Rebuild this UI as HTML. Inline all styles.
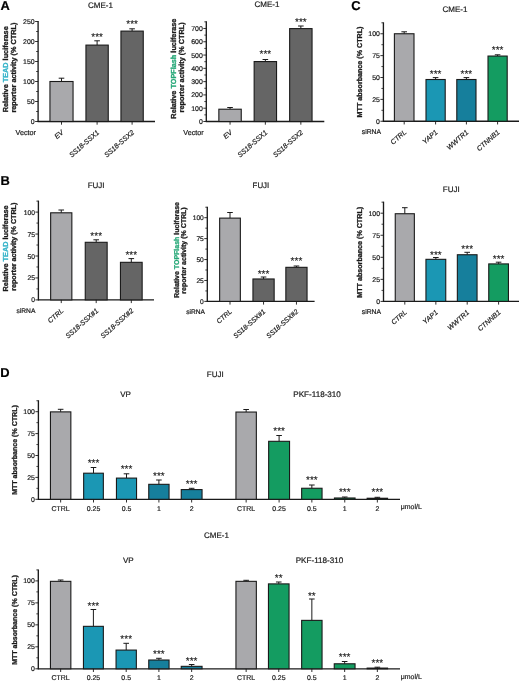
<!DOCTYPE html>
<html lang="en">
<head>
<meta charset="utf-8">
<title>Figure</title>
<style>
html,body{margin:0;padding:0;background:#fff;}
body{width:520px;height:682px;overflow:hidden;}
svg{display:block;font-family:'Liberation Sans', Arial, sans-serif;}
</style>
</head>
<body>
<svg width="520" height="682" viewBox="0 0 520 682" font-family="Liberation Sans, Arial, sans-serif" text-rendering="geometricPrecision">
<rect x="0" y="0" width="520" height="682" fill="#ffffff"/>
<text x="0.60" y="10.00" font-size="12.9" text-anchor="start" font-weight="bold" font-style="normal" fill="#000" stroke="#000" stroke-width="0.2" >A</text>
<text x="0.50" y="185.20" font-size="12.9" text-anchor="start" font-weight="bold" font-style="normal" fill="#000" stroke="#000" stroke-width="0.2" >B</text>
<text x="351.30" y="10.20" font-size="12.9" text-anchor="start" font-weight="bold" font-style="normal" fill="#000" stroke="#000" stroke-width="0.2" >C</text>
<text x="0.30" y="376.50" font-size="12.9" text-anchor="start" font-weight="bold" font-style="normal" fill="#000" stroke="#000" stroke-width="0.2" >D</text>
<text x="100.50" y="8.10" font-size="8" text-anchor="middle" font-weight="normal" font-style="normal" fill="#1a1a1a" stroke="#1a1a1a" stroke-width="0.2" >CME-1</text>
<text x="267.00" y="7.40" font-size="8" text-anchor="middle" font-weight="normal" font-style="normal" fill="#1a1a1a" stroke="#1a1a1a" stroke-width="0.2" >CME-1</text>
<text x="455.00" y="11.80" font-size="8" text-anchor="middle" font-weight="normal" font-style="normal" fill="#1a1a1a" stroke="#1a1a1a" stroke-width="0.2" >CME-1</text>
<text x="96.10" y="188.10" font-size="8" text-anchor="middle" font-weight="normal" font-style="normal" fill="#1a1a1a" stroke="#1a1a1a" stroke-width="0.2" >FUJI</text>
<text x="260.90" y="187.60" font-size="7.9" text-anchor="middle" font-weight="normal" font-style="normal" fill="#1a1a1a" stroke="#1a1a1a" stroke-width="0.2" >FUJI</text>
<text x="451.20" y="191.60" font-size="8" text-anchor="middle" font-weight="normal" font-style="normal" fill="#1a1a1a" stroke="#1a1a1a" stroke-width="0.2" >FUJI</text>
<text x="215.20" y="377.40" font-size="8" text-anchor="middle" font-weight="normal" font-style="normal" fill="#1a1a1a" stroke="#1a1a1a" stroke-width="0.2" >FUJI</text>
<text x="125.50" y="397.20" font-size="8" text-anchor="middle" font-weight="normal" font-style="normal" fill="#1a1a1a" stroke="#1a1a1a" stroke-width="0.2" >VP</text>
<text x="317.10" y="397.30" font-size="8.1" text-anchor="middle" font-weight="normal" font-style="normal" fill="#1a1a1a" stroke="#1a1a1a" stroke-width="0.2" >PKF-118-310</text>
<text x="216.50" y="538.00" font-size="8" text-anchor="middle" font-weight="normal" font-style="normal" fill="#1a1a1a" stroke="#1a1a1a" stroke-width="0.2" >CME-1</text>
<text x="128.30" y="563.20" font-size="8" text-anchor="middle" font-weight="normal" font-style="normal" fill="#1a1a1a" stroke="#1a1a1a" stroke-width="0.2" >VP</text>
<text x="319.50" y="563.20" font-size="8.1" text-anchor="middle" font-weight="normal" font-style="normal" fill="#1a1a1a" stroke="#1a1a1a" stroke-width="0.2" >PKF-118-310</text>
<line x1="38.1" y1="21.0" x2="38.1" y2="122.0" stroke="#1a1a1a" stroke-width="1.35"/>
<line x1="37.6" y1="121.5" x2="155" y2="121.5" stroke="#1a1a1a" stroke-width="1.35"/>
<line x1="35.1" y1="121.50" x2="38.1" y2="121.50" stroke="#1a1a1a" stroke-width="0.9"/>
<text x="34.65" y="124.00" font-size="6.95" text-anchor="end" font-weight="normal" font-style="normal" fill="#1a1a1a" stroke="#1a1a1a" stroke-width="0.2" >0</text>
<line x1="35.1" y1="101.50" x2="38.1" y2="101.50" stroke="#1a1a1a" stroke-width="0.9"/>
<text x="34.65" y="104.00" font-size="6.95" text-anchor="end" font-weight="normal" font-style="normal" fill="#1a1a1a" stroke="#1a1a1a" stroke-width="0.2" >50</text>
<line x1="35.1" y1="81.50" x2="38.1" y2="81.50" stroke="#1a1a1a" stroke-width="0.9"/>
<text x="34.65" y="84.00" font-size="6.95" text-anchor="end" font-weight="normal" font-style="normal" fill="#1a1a1a" stroke="#1a1a1a" stroke-width="0.2" >100</text>
<line x1="35.1" y1="61.50" x2="38.1" y2="61.50" stroke="#1a1a1a" stroke-width="0.9"/>
<text x="34.65" y="64.00" font-size="6.95" text-anchor="end" font-weight="normal" font-style="normal" fill="#1a1a1a" stroke="#1a1a1a" stroke-width="0.2" >150</text>
<line x1="35.1" y1="41.50" x2="38.1" y2="41.50" stroke="#1a1a1a" stroke-width="0.9"/>
<text x="34.65" y="44.00" font-size="6.95" text-anchor="end" font-weight="normal" font-style="normal" fill="#1a1a1a" stroke="#1a1a1a" stroke-width="0.2" >200</text>
<line x1="35.1" y1="21.50" x2="38.1" y2="21.50" stroke="#1a1a1a" stroke-width="0.9"/>
<text x="34.65" y="24.00" font-size="6.95" text-anchor="end" font-weight="normal" font-style="normal" fill="#1a1a1a" stroke="#1a1a1a" stroke-width="0.2" >250</text>
<line x1="36.1" y1="111.50" x2="38.1" y2="111.50" stroke="#1a1a1a" stroke-width="0.8"/>
<line x1="36.1" y1="91.50" x2="38.1" y2="91.50" stroke="#1a1a1a" stroke-width="0.8"/>
<line x1="36.1" y1="71.50" x2="38.1" y2="71.50" stroke="#1a1a1a" stroke-width="0.8"/>
<line x1="36.1" y1="51.50" x2="38.1" y2="51.50" stroke="#1a1a1a" stroke-width="0.8"/>
<line x1="36.1" y1="31.50" x2="38.1" y2="31.50" stroke="#1a1a1a" stroke-width="0.8"/>
<line x1="61.50" y1="81.50" x2="61.50" y2="78.20" stroke="#1a1a1a" stroke-width="1"/>
<line x1="58.70" y1="78.20" x2="64.30" y2="78.20" stroke="#1a1a1a" stroke-width="1"/>
<rect x="49.95" y="81.50" width="23.10" height="40.00" fill="#a9a9ac" stroke="#1a1a1a" stroke-width="1.1"/>
<line x1="61.50" y1="121.5" x2="61.50" y2="124.7" stroke="#1a1a1a" stroke-width="0.9"/>
<line x1="97.10" y1="45.10" x2="97.10" y2="40.80" stroke="#1a1a1a" stroke-width="1"/>
<line x1="94.30" y1="40.80" x2="99.90" y2="40.80" stroke="#1a1a1a" stroke-width="1"/>
<rect x="85.95" y="45.10" width="22.30" height="76.40" fill="#656565" stroke="#1a1a1a" stroke-width="1.1"/>
<line x1="97.10" y1="121.5" x2="97.10" y2="124.7" stroke="#1a1a1a" stroke-width="0.9"/>
<text x="97.10" y="39.75" font-size="10" text-anchor="middle" font-weight="normal" font-style="normal" fill="#1a1a1a" stroke="#1a1a1a" stroke-width="0.1" >***</text>
<line x1="132.10" y1="31.10" x2="132.10" y2="28.80" stroke="#1a1a1a" stroke-width="1"/>
<line x1="129.30" y1="28.80" x2="134.90" y2="28.80" stroke="#1a1a1a" stroke-width="1"/>
<rect x="120.95" y="31.10" width="22.30" height="90.40" fill="#656565" stroke="#1a1a1a" stroke-width="1.1"/>
<line x1="132.10" y1="121.5" x2="132.10" y2="124.7" stroke="#1a1a1a" stroke-width="0.9"/>
<text x="132.10" y="27.25" font-size="10" text-anchor="middle" font-weight="normal" font-style="normal" fill="#1a1a1a" stroke="#1a1a1a" stroke-width="0.1" >***</text>
<text x="64.10" y="133.10" font-size="7.0" text-anchor="end" font-style="italic" fill="#1a1a1a" stroke="#1a1a1a" stroke-width="0.2" transform="rotate(-41.5 64.10 133.10)">EV</text>
<text x="99.70" y="133.10" font-size="7.0" text-anchor="end" font-style="italic" fill="#1a1a1a" stroke="#1a1a1a" stroke-width="0.2" transform="rotate(-41.5 99.70 133.10)">SS18-SSX1</text>
<text x="134.70" y="133.10" font-size="7.0" text-anchor="end" font-style="italic" fill="#1a1a1a" stroke="#1a1a1a" stroke-width="0.2" transform="rotate(-41.5 134.70 133.10)">SS18-SSX2</text>
<text x="36.00" y="134.70" font-size="7.2" text-anchor="end" font-weight="normal" font-style="normal" fill="#1a1a1a" stroke="#1a1a1a" stroke-width="0.2" >Vector</text>
<text x="0" y="0" font-size="7.3" font-weight="bold" text-anchor="middle" stroke="#1a1a1a" stroke-width="0.3" transform="translate(7.8 69.3) rotate(-90)" xml:space="preserve"><tspan fill="#1a1a1a" stroke="#1a1a1a">Relative </tspan><tspan fill="#35b3c9" stroke="#35b3c9">TEAD</tspan><tspan fill="#1a1a1a" stroke="#1a1a1a"> luciferase</tspan></text>
<text x="0" y="0" font-size="7.3" font-weight="bold" text-anchor="middle" stroke="#1a1a1a" stroke-width="0.3" transform="translate(16.1 67.6) rotate(-90)" xml:space="preserve"><tspan fill="#1a1a1a" stroke="#1a1a1a">reporter activity (% CTRL)</tspan></text>
<line x1="206.3" y1="21.325000000000003" x2="206.3" y2="122.0" stroke="#1a1a1a" stroke-width="1.35"/>
<line x1="205.8" y1="121.5" x2="324.3" y2="121.5" stroke="#1a1a1a" stroke-width="1.35"/>
<line x1="203.3" y1="121.50" x2="206.3" y2="121.50" stroke="#1a1a1a" stroke-width="0.9"/>
<text x="202.85" y="124.00" font-size="6.95" text-anchor="end" font-weight="normal" font-style="normal" fill="#1a1a1a" stroke="#1a1a1a" stroke-width="0.2" >0</text>
<line x1="203.3" y1="108.21" x2="206.3" y2="108.21" stroke="#1a1a1a" stroke-width="0.9"/>
<text x="202.85" y="110.71" font-size="6.95" text-anchor="end" font-weight="normal" font-style="normal" fill="#1a1a1a" stroke="#1a1a1a" stroke-width="0.2" >100</text>
<line x1="203.3" y1="94.92" x2="206.3" y2="94.92" stroke="#1a1a1a" stroke-width="0.9"/>
<text x="202.85" y="97.42" font-size="6.95" text-anchor="end" font-weight="normal" font-style="normal" fill="#1a1a1a" stroke="#1a1a1a" stroke-width="0.2" >200</text>
<line x1="203.3" y1="81.63" x2="206.3" y2="81.63" stroke="#1a1a1a" stroke-width="0.9"/>
<text x="202.85" y="84.13" font-size="6.95" text-anchor="end" font-weight="normal" font-style="normal" fill="#1a1a1a" stroke="#1a1a1a" stroke-width="0.2" >300</text>
<line x1="203.3" y1="68.34" x2="206.3" y2="68.34" stroke="#1a1a1a" stroke-width="0.9"/>
<text x="202.85" y="70.84" font-size="6.95" text-anchor="end" font-weight="normal" font-style="normal" fill="#1a1a1a" stroke="#1a1a1a" stroke-width="0.2" >400</text>
<line x1="203.3" y1="55.05" x2="206.3" y2="55.05" stroke="#1a1a1a" stroke-width="0.9"/>
<text x="202.85" y="57.55" font-size="6.95" text-anchor="end" font-weight="normal" font-style="normal" fill="#1a1a1a" stroke="#1a1a1a" stroke-width="0.2" >500</text>
<line x1="203.3" y1="41.76" x2="206.3" y2="41.76" stroke="#1a1a1a" stroke-width="0.9"/>
<text x="202.85" y="44.26" font-size="6.95" text-anchor="end" font-weight="normal" font-style="normal" fill="#1a1a1a" stroke="#1a1a1a" stroke-width="0.2" >600</text>
<line x1="203.3" y1="28.47" x2="206.3" y2="28.47" stroke="#1a1a1a" stroke-width="0.9"/>
<text x="202.85" y="30.97" font-size="6.95" text-anchor="end" font-weight="normal" font-style="normal" fill="#1a1a1a" stroke="#1a1a1a" stroke-width="0.2" >700</text>
<line x1="204.3" y1="114.86" x2="206.3" y2="114.86" stroke="#1a1a1a" stroke-width="0.8"/>
<line x1="204.3" y1="101.56" x2="206.3" y2="101.56" stroke="#1a1a1a" stroke-width="0.8"/>
<line x1="204.3" y1="88.28" x2="206.3" y2="88.28" stroke="#1a1a1a" stroke-width="0.8"/>
<line x1="204.3" y1="74.99" x2="206.3" y2="74.99" stroke="#1a1a1a" stroke-width="0.8"/>
<line x1="204.3" y1="61.70" x2="206.3" y2="61.70" stroke="#1a1a1a" stroke-width="0.8"/>
<line x1="204.3" y1="48.41" x2="206.3" y2="48.41" stroke="#1a1a1a" stroke-width="0.8"/>
<line x1="204.3" y1="35.12" x2="206.3" y2="35.12" stroke="#1a1a1a" stroke-width="0.8"/>
<line x1="204.3" y1="21.83" x2="206.3" y2="21.83" stroke="#1a1a1a" stroke-width="0.8"/>
<line x1="230.05" y1="109.21" x2="230.05" y2="107.50" stroke="#1a1a1a" stroke-width="1"/>
<line x1="227.25" y1="107.50" x2="232.85" y2="107.50" stroke="#1a1a1a" stroke-width="1"/>
<rect x="218.85" y="109.21" width="22.40" height="12.29" fill="#a9a9ac" stroke="#1a1a1a" stroke-width="1.1"/>
<line x1="230.05" y1="121.5" x2="230.05" y2="124.7" stroke="#1a1a1a" stroke-width="0.9"/>
<line x1="265.35" y1="61.56" x2="265.35" y2="59.50" stroke="#1a1a1a" stroke-width="1"/>
<line x1="262.55" y1="59.50" x2="268.15" y2="59.50" stroke="#1a1a1a" stroke-width="1"/>
<rect x="254.15" y="61.56" width="22.40" height="59.94" fill="#656565" stroke="#1a1a1a" stroke-width="1.1"/>
<line x1="265.35" y1="121.5" x2="265.35" y2="124.7" stroke="#1a1a1a" stroke-width="0.9"/>
<text x="265.35" y="57.25" font-size="10" text-anchor="middle" font-weight="normal" font-style="normal" fill="#1a1a1a" stroke="#1a1a1a" stroke-width="0.1" >***</text>
<line x1="300.85" y1="28.60" x2="300.85" y2="26.00" stroke="#1a1a1a" stroke-width="1"/>
<line x1="298.05" y1="26.00" x2="303.65" y2="26.00" stroke="#1a1a1a" stroke-width="1"/>
<rect x="289.65" y="28.60" width="22.40" height="92.90" fill="#656565" stroke="#1a1a1a" stroke-width="1.1"/>
<line x1="300.85" y1="121.5" x2="300.85" y2="124.7" stroke="#1a1a1a" stroke-width="0.9"/>
<text x="300.85" y="24.55" font-size="10" text-anchor="middle" font-weight="normal" font-style="normal" fill="#1a1a1a" stroke="#1a1a1a" stroke-width="0.1" >***</text>
<text x="232.65" y="133.10" font-size="7.0" text-anchor="end" font-style="italic" fill="#1a1a1a" stroke="#1a1a1a" stroke-width="0.2" transform="rotate(-41.5 232.65 133.10)">EV</text>
<text x="267.95" y="133.10" font-size="7.0" text-anchor="end" font-style="italic" fill="#1a1a1a" stroke="#1a1a1a" stroke-width="0.2" transform="rotate(-41.5 267.95 133.10)">SS18-SSX1</text>
<text x="303.45" y="133.10" font-size="7.0" text-anchor="end" font-style="italic" fill="#1a1a1a" stroke="#1a1a1a" stroke-width="0.2" transform="rotate(-41.5 303.45 133.10)">SS18-SSX2</text>
<text x="203.70" y="134.80" font-size="7.2" text-anchor="end" font-weight="normal" font-style="normal" fill="#1a1a1a" stroke="#1a1a1a" stroke-width="0.2" >Vector</text>
<text x="0" y="0" font-size="7.3" font-weight="bold" text-anchor="middle" stroke="#1a1a1a" stroke-width="0.3" transform="translate(175.9 68.6) rotate(-90)" xml:space="preserve"><tspan fill="#1a1a1a" stroke="#1a1a1a">Relative </tspan><tspan fill="#27a878" stroke="#27a878">TOPFlash</tspan><tspan fill="#1a1a1a" stroke="#1a1a1a"> luciferase</tspan></text>
<text x="0" y="0" font-size="7.3" font-weight="bold" text-anchor="middle" stroke="#1a1a1a" stroke-width="0.3" transform="translate(184.2 67.4) rotate(-90)" xml:space="preserve"><tspan fill="#1a1a1a" stroke="#1a1a1a">reporter activity (% CTRL)</tspan></text>
<line x1="383.4" y1="22.3125" x2="383.4" y2="121.75" stroke="#1a1a1a" stroke-width="1.35"/>
<line x1="382.9" y1="121.25" x2="519" y2="121.25" stroke="#1a1a1a" stroke-width="1.35"/>
<line x1="380.4" y1="121.25" x2="383.4" y2="121.25" stroke="#1a1a1a" stroke-width="0.9"/>
<text x="379.95" y="123.75" font-size="6.95" text-anchor="end" font-weight="normal" font-style="normal" fill="#1a1a1a" stroke="#1a1a1a" stroke-width="0.2" >0</text>
<line x1="380.4" y1="99.38" x2="383.4" y2="99.38" stroke="#1a1a1a" stroke-width="0.9"/>
<text x="379.95" y="101.88" font-size="6.95" text-anchor="end" font-weight="normal" font-style="normal" fill="#1a1a1a" stroke="#1a1a1a" stroke-width="0.2" >25</text>
<line x1="380.4" y1="77.50" x2="383.4" y2="77.50" stroke="#1a1a1a" stroke-width="0.9"/>
<text x="379.95" y="80.00" font-size="6.95" text-anchor="end" font-weight="normal" font-style="normal" fill="#1a1a1a" stroke="#1a1a1a" stroke-width="0.2" >50</text>
<line x1="380.4" y1="55.62" x2="383.4" y2="55.62" stroke="#1a1a1a" stroke-width="0.9"/>
<text x="379.95" y="58.12" font-size="6.95" text-anchor="end" font-weight="normal" font-style="normal" fill="#1a1a1a" stroke="#1a1a1a" stroke-width="0.2" >75</text>
<line x1="380.4" y1="33.75" x2="383.4" y2="33.75" stroke="#1a1a1a" stroke-width="0.9"/>
<text x="379.95" y="36.25" font-size="6.95" text-anchor="end" font-weight="normal" font-style="normal" fill="#1a1a1a" stroke="#1a1a1a" stroke-width="0.2" >100</text>
<line x1="381.4" y1="110.31" x2="383.4" y2="110.31" stroke="#1a1a1a" stroke-width="0.8"/>
<line x1="381.4" y1="88.44" x2="383.4" y2="88.44" stroke="#1a1a1a" stroke-width="0.8"/>
<line x1="381.4" y1="66.56" x2="383.4" y2="66.56" stroke="#1a1a1a" stroke-width="0.8"/>
<line x1="381.4" y1="44.69" x2="383.4" y2="44.69" stroke="#1a1a1a" stroke-width="0.8"/>
<line x1="381.4" y1="22.81" x2="383.4" y2="22.81" stroke="#1a1a1a" stroke-width="0.8"/>
<line x1="404.20" y1="33.75" x2="404.20" y2="31.80" stroke="#1a1a1a" stroke-width="1"/>
<line x1="401.40" y1="31.80" x2="407.00" y2="31.80" stroke="#1a1a1a" stroke-width="1"/>
<rect x="394.40" y="33.75" width="19.60" height="87.50" fill="#a9a9ac" stroke="#1a1a1a" stroke-width="1.1"/>
<line x1="404.20" y1="121.25" x2="404.20" y2="124.45" stroke="#1a1a1a" stroke-width="0.9"/>
<line x1="435.60" y1="79.51" x2="435.60" y2="77.60" stroke="#1a1a1a" stroke-width="1"/>
<line x1="432.80" y1="77.60" x2="438.40" y2="77.60" stroke="#1a1a1a" stroke-width="1"/>
<rect x="426.00" y="79.51" width="19.20" height="41.74" fill="#1b97b4" stroke="#1a1a1a" stroke-width="1.1"/>
<line x1="435.60" y1="121.25" x2="435.60" y2="124.45" stroke="#1a1a1a" stroke-width="0.9"/>
<text x="435.60" y="77.25" font-size="10" text-anchor="middle" font-weight="normal" font-style="normal" fill="#1a1a1a" stroke="#1a1a1a" stroke-width="0.1" >***</text>
<line x1="466.40" y1="79.51" x2="466.40" y2="77.60" stroke="#1a1a1a" stroke-width="1"/>
<line x1="463.60" y1="77.60" x2="469.20" y2="77.60" stroke="#1a1a1a" stroke-width="1"/>
<rect x="456.80" y="79.51" width="19.20" height="41.74" fill="#167f9c" stroke="#1a1a1a" stroke-width="1.1"/>
<line x1="466.40" y1="121.25" x2="466.40" y2="124.45" stroke="#1a1a1a" stroke-width="0.9"/>
<text x="466.40" y="77.25" font-size="10" text-anchor="middle" font-weight="normal" font-style="normal" fill="#1a1a1a" stroke="#1a1a1a" stroke-width="0.1" >***</text>
<line x1="497.60" y1="56.06" x2="497.60" y2="54.80" stroke="#1a1a1a" stroke-width="1"/>
<line x1="494.80" y1="54.80" x2="500.40" y2="54.80" stroke="#1a1a1a" stroke-width="1"/>
<rect x="488.00" y="56.06" width="19.20" height="65.19" fill="#149c61" stroke="#1a1a1a" stroke-width="1.1"/>
<line x1="497.60" y1="121.25" x2="497.60" y2="124.45" stroke="#1a1a1a" stroke-width="0.9"/>
<text x="497.60" y="53.25" font-size="10" text-anchor="middle" font-weight="normal" font-style="normal" fill="#1a1a1a" stroke="#1a1a1a" stroke-width="0.1" >***</text>
<text x="406.80" y="132.85" font-size="7.0" text-anchor="end" font-style="italic" fill="#1a1a1a" stroke="#1a1a1a" stroke-width="0.2" transform="rotate(-41.5 406.80 132.85)">CTRL</text>
<text x="438.20" y="132.85" font-size="7.0" text-anchor="end" font-style="italic" fill="#1a1a1a" stroke="#1a1a1a" stroke-width="0.2" transform="rotate(-41.5 438.20 132.85)">YAP1</text>
<text x="469.00" y="132.85" font-size="7.0" text-anchor="end" font-style="italic" fill="#1a1a1a" stroke="#1a1a1a" stroke-width="0.2" transform="rotate(-41.5 469.00 132.85)">WWTR1</text>
<text x="500.20" y="132.85" font-size="7.0" text-anchor="end" font-style="italic" fill="#1a1a1a" stroke="#1a1a1a" stroke-width="0.2" transform="rotate(-41.5 500.20 132.85)">CTNNB1</text>
<text x="381.00" y="134.10" font-size="6.8" text-anchor="end" font-weight="normal" font-style="normal" fill="#1a1a1a" stroke="#1a1a1a" stroke-width="0.2" >siRNA</text>
<text x="0" y="0" font-size="7.15" font-weight="bold" text-anchor="middle" stroke="#1a1a1a" stroke-width="0.3" transform="translate(362.3 72.0) rotate(-90)" xml:space="preserve"><tspan fill="#1a1a1a" stroke="#1a1a1a">MTT absorbance (% CTRL)</tspan></text>
<line x1="38.4" y1="200.62499999999997" x2="38.4" y2="300.4" stroke="#1a1a1a" stroke-width="1.35"/>
<line x1="37.9" y1="299.9" x2="154" y2="299.9" stroke="#1a1a1a" stroke-width="1.35"/>
<line x1="35.4" y1="299.90" x2="38.4" y2="299.90" stroke="#1a1a1a" stroke-width="0.9"/>
<text x="34.95" y="302.40" font-size="6.75" text-anchor="end" font-weight="normal" font-style="normal" fill="#1a1a1a" stroke="#1a1a1a" stroke-width="0.2" >0</text>
<line x1="35.4" y1="277.95" x2="38.4" y2="277.95" stroke="#1a1a1a" stroke-width="0.9"/>
<text x="34.95" y="280.45" font-size="6.75" text-anchor="end" font-weight="normal" font-style="normal" fill="#1a1a1a" stroke="#1a1a1a" stroke-width="0.2" >25</text>
<line x1="35.4" y1="256.00" x2="38.4" y2="256.00" stroke="#1a1a1a" stroke-width="0.9"/>
<text x="34.95" y="258.50" font-size="6.75" text-anchor="end" font-weight="normal" font-style="normal" fill="#1a1a1a" stroke="#1a1a1a" stroke-width="0.2" >50</text>
<line x1="35.4" y1="234.05" x2="38.4" y2="234.05" stroke="#1a1a1a" stroke-width="0.9"/>
<text x="34.95" y="236.55" font-size="6.75" text-anchor="end" font-weight="normal" font-style="normal" fill="#1a1a1a" stroke="#1a1a1a" stroke-width="0.2" >75</text>
<line x1="35.4" y1="212.10" x2="38.4" y2="212.10" stroke="#1a1a1a" stroke-width="0.9"/>
<text x="34.95" y="214.60" font-size="6.75" text-anchor="end" font-weight="normal" font-style="normal" fill="#1a1a1a" stroke="#1a1a1a" stroke-width="0.2" >100</text>
<line x1="36.4" y1="288.92" x2="38.4" y2="288.92" stroke="#1a1a1a" stroke-width="0.8"/>
<line x1="36.4" y1="266.97" x2="38.4" y2="266.97" stroke="#1a1a1a" stroke-width="0.8"/>
<line x1="36.4" y1="245.02" x2="38.4" y2="245.02" stroke="#1a1a1a" stroke-width="0.8"/>
<line x1="36.4" y1="223.07" x2="38.4" y2="223.07" stroke="#1a1a1a" stroke-width="0.8"/>
<line x1="36.4" y1="201.12" x2="38.4" y2="201.12" stroke="#1a1a1a" stroke-width="0.8"/>
<line x1="61.25" y1="212.80" x2="61.25" y2="210.00" stroke="#1a1a1a" stroke-width="1"/>
<line x1="58.45" y1="210.00" x2="64.05" y2="210.00" stroke="#1a1a1a" stroke-width="1"/>
<rect x="50.65" y="212.80" width="21.20" height="87.10" fill="#a9a9ac" stroke="#1a1a1a" stroke-width="1.1"/>
<line x1="61.25" y1="299.9" x2="61.25" y2="303.09999999999997" stroke="#1a1a1a" stroke-width="0.9"/>
<line x1="96.20" y1="242.30" x2="96.20" y2="239.80" stroke="#1a1a1a" stroke-width="1"/>
<line x1="93.40" y1="239.80" x2="99.00" y2="239.80" stroke="#1a1a1a" stroke-width="1"/>
<rect x="85.25" y="242.30" width="21.90" height="57.60" fill="#656565" stroke="#1a1a1a" stroke-width="1.1"/>
<line x1="96.20" y1="299.9" x2="96.20" y2="303.09999999999997" stroke="#1a1a1a" stroke-width="0.9"/>
<text x="96.20" y="239.25" font-size="10" text-anchor="middle" font-weight="normal" font-style="normal" fill="#1a1a1a" stroke="#1a1a1a" stroke-width="0.1" >***</text>
<line x1="131.30" y1="262.32" x2="131.30" y2="258.60" stroke="#1a1a1a" stroke-width="1"/>
<line x1="128.50" y1="258.60" x2="134.10" y2="258.60" stroke="#1a1a1a" stroke-width="1"/>
<rect x="120.45" y="262.32" width="21.70" height="37.58" fill="#656565" stroke="#1a1a1a" stroke-width="1.1"/>
<line x1="131.30" y1="299.9" x2="131.30" y2="303.09999999999997" stroke="#1a1a1a" stroke-width="0.9"/>
<text x="131.30" y="257.75" font-size="10" text-anchor="middle" font-weight="normal" font-style="normal" fill="#1a1a1a" stroke="#1a1a1a" stroke-width="0.1" >***</text>
<text x="63.85" y="311.50" font-size="7.0" text-anchor="end" font-style="italic" fill="#1a1a1a" stroke="#1a1a1a" stroke-width="0.2" transform="rotate(-41.5 63.85 311.50)">CTRL</text>
<text x="98.80" y="311.50" font-size="7.0" text-anchor="end" font-style="italic" fill="#1a1a1a" stroke="#1a1a1a" stroke-width="0.2" transform="rotate(-41.5 98.80 311.50)">SS18-SSX#1</text>
<text x="133.90" y="311.50" font-size="7.0" text-anchor="end" font-style="italic" fill="#1a1a1a" stroke="#1a1a1a" stroke-width="0.2" transform="rotate(-41.5 133.90 311.50)">SS18-SSX#2</text>
<text x="35.40" y="312.80" font-size="6.7" text-anchor="end" font-weight="normal" font-style="normal" fill="#1a1a1a" stroke="#1a1a1a" stroke-width="0.2" >siRNA</text>
<text x="0" y="0" font-size="7.3" font-weight="bold" text-anchor="middle" stroke="#1a1a1a" stroke-width="0.3" transform="translate(8.0 248.4) rotate(-90)" xml:space="preserve"><tspan fill="#1a1a1a" stroke="#1a1a1a">Relative </tspan><tspan fill="#35b3c9" stroke="#35b3c9">TEAD</tspan><tspan fill="#1a1a1a" stroke="#1a1a1a"> luciferase</tspan></text>
<text x="0" y="0" font-size="7.15" font-weight="bold" text-anchor="middle" stroke="#1a1a1a" stroke-width="0.3" transform="translate(16.3 246.7) rotate(-90)" xml:space="preserve"><tspan fill="#1a1a1a" stroke="#1a1a1a">reporter activity (% CTRL)</tspan></text>
<line x1="207.3" y1="206.73749999999998" x2="207.3" y2="301.9" stroke="#1a1a1a" stroke-width="1.35"/>
<line x1="206.8" y1="301.4" x2="314.6" y2="301.4" stroke="#1a1a1a" stroke-width="1.35"/>
<line x1="204.3" y1="301.40" x2="207.3" y2="301.40" stroke="#1a1a1a" stroke-width="0.9"/>
<text x="203.85" y="303.90" font-size="6.7" text-anchor="end" font-weight="normal" font-style="normal" fill="#1a1a1a" stroke="#1a1a1a" stroke-width="0.2" >0</text>
<line x1="204.3" y1="280.47" x2="207.3" y2="280.47" stroke="#1a1a1a" stroke-width="0.9"/>
<text x="203.85" y="282.97" font-size="6.7" text-anchor="end" font-weight="normal" font-style="normal" fill="#1a1a1a" stroke="#1a1a1a" stroke-width="0.2" >25</text>
<line x1="204.3" y1="259.55" x2="207.3" y2="259.55" stroke="#1a1a1a" stroke-width="0.9"/>
<text x="203.85" y="262.05" font-size="6.7" text-anchor="end" font-weight="normal" font-style="normal" fill="#1a1a1a" stroke="#1a1a1a" stroke-width="0.2" >50</text>
<line x1="204.3" y1="238.62" x2="207.3" y2="238.62" stroke="#1a1a1a" stroke-width="0.9"/>
<text x="203.85" y="241.12" font-size="6.7" text-anchor="end" font-weight="normal" font-style="normal" fill="#1a1a1a" stroke="#1a1a1a" stroke-width="0.2" >75</text>
<line x1="204.3" y1="217.70" x2="207.3" y2="217.70" stroke="#1a1a1a" stroke-width="0.9"/>
<text x="203.85" y="220.20" font-size="6.7" text-anchor="end" font-weight="normal" font-style="normal" fill="#1a1a1a" stroke="#1a1a1a" stroke-width="0.2" >100</text>
<line x1="205.3" y1="290.94" x2="207.3" y2="290.94" stroke="#1a1a1a" stroke-width="0.8"/>
<line x1="205.3" y1="270.01" x2="207.3" y2="270.01" stroke="#1a1a1a" stroke-width="0.8"/>
<line x1="205.3" y1="249.09" x2="207.3" y2="249.09" stroke="#1a1a1a" stroke-width="0.8"/>
<line x1="205.3" y1="228.16" x2="207.3" y2="228.16" stroke="#1a1a1a" stroke-width="0.8"/>
<line x1="205.3" y1="207.24" x2="207.3" y2="207.24" stroke="#1a1a1a" stroke-width="0.8"/>
<line x1="230.00" y1="218.12" x2="230.00" y2="212.50" stroke="#1a1a1a" stroke-width="1"/>
<line x1="227.20" y1="212.50" x2="232.80" y2="212.50" stroke="#1a1a1a" stroke-width="1"/>
<rect x="219.65" y="218.12" width="20.70" height="83.28" fill="#a9a9ac" stroke="#1a1a1a" stroke-width="1.1"/>
<line x1="230.00" y1="301.4" x2="230.00" y2="304.59999999999997" stroke="#1a1a1a" stroke-width="0.9"/>
<line x1="263.55" y1="278.97" x2="263.55" y2="277.00" stroke="#1a1a1a" stroke-width="1"/>
<line x1="260.75" y1="277.00" x2="266.35" y2="277.00" stroke="#1a1a1a" stroke-width="1"/>
<rect x="252.95" y="278.97" width="21.20" height="22.43" fill="#656565" stroke="#1a1a1a" stroke-width="1.1"/>
<line x1="263.55" y1="301.4" x2="263.55" y2="304.59999999999997" stroke="#1a1a1a" stroke-width="0.9"/>
<text x="263.55" y="276.75" font-size="10" text-anchor="middle" font-weight="normal" font-style="normal" fill="#1a1a1a" stroke="#1a1a1a" stroke-width="0.1" >***</text>
<line x1="296.45" y1="267.33" x2="296.45" y2="266.00" stroke="#1a1a1a" stroke-width="1"/>
<line x1="293.65" y1="266.00" x2="299.25" y2="266.00" stroke="#1a1a1a" stroke-width="1"/>
<rect x="285.85" y="267.33" width="21.20" height="34.07" fill="#656565" stroke="#1a1a1a" stroke-width="1.1"/>
<line x1="296.45" y1="301.4" x2="296.45" y2="304.59999999999997" stroke="#1a1a1a" stroke-width="0.9"/>
<text x="296.45" y="263.85" font-size="10" text-anchor="middle" font-weight="normal" font-style="normal" fill="#1a1a1a" stroke="#1a1a1a" stroke-width="0.1" >***</text>
<text x="232.30" y="312.20" font-size="6.8" text-anchor="end" font-style="italic" fill="#1a1a1a" stroke="#1a1a1a" stroke-width="0.2" transform="rotate(-41.5 232.30 312.20)">CTRL</text>
<text x="265.85" y="312.20" font-size="6.8" text-anchor="end" font-style="italic" fill="#1a1a1a" stroke="#1a1a1a" stroke-width="0.2" transform="rotate(-41.5 265.85 312.20)">SS18-SSX#1</text>
<text x="298.75" y="312.20" font-size="6.8" text-anchor="end" font-style="italic" fill="#1a1a1a" stroke="#1a1a1a" stroke-width="0.2" transform="rotate(-41.5 298.75 312.20)">SS18-SSX#2</text>
<text x="204.90" y="313.90" font-size="6.6" text-anchor="end" font-weight="normal" font-style="normal" fill="#1a1a1a" stroke="#1a1a1a" stroke-width="0.2" >siRNA</text>
<text x="0" y="0" font-size="7.0" font-weight="bold" text-anchor="middle" stroke="#1a1a1a" stroke-width="0.3" transform="translate(178.5 250.0) rotate(-90)" xml:space="preserve"><tspan fill="#1a1a1a" stroke="#1a1a1a">Relative </tspan><tspan fill="#27a878" stroke="#27a878">TOPFlash</tspan><tspan fill="#1a1a1a" stroke="#1a1a1a"> luciferase</tspan></text>
<text x="0" y="0" font-size="7.0" font-weight="bold" text-anchor="middle" stroke="#1a1a1a" stroke-width="0.3" transform="translate(185.9 250.5) rotate(-90)" xml:space="preserve"><tspan fill="#1a1a1a" stroke="#1a1a1a">reporter activity (% CTRL)</tspan></text>
<line x1="383.5" y1="201.67499999999998" x2="383.5" y2="301.9" stroke="#1a1a1a" stroke-width="1.35"/>
<line x1="383.0" y1="301.4" x2="519" y2="301.4" stroke="#1a1a1a" stroke-width="1.35"/>
<line x1="380.5" y1="301.40" x2="383.5" y2="301.40" stroke="#1a1a1a" stroke-width="0.9"/>
<text x="380.05" y="303.90" font-size="6.95" text-anchor="end" font-weight="normal" font-style="normal" fill="#1a1a1a" stroke="#1a1a1a" stroke-width="0.2" >0</text>
<line x1="380.5" y1="279.35" x2="383.5" y2="279.35" stroke="#1a1a1a" stroke-width="0.9"/>
<text x="380.05" y="281.85" font-size="6.95" text-anchor="end" font-weight="normal" font-style="normal" fill="#1a1a1a" stroke="#1a1a1a" stroke-width="0.2" >25</text>
<line x1="380.5" y1="257.30" x2="383.5" y2="257.30" stroke="#1a1a1a" stroke-width="0.9"/>
<text x="380.05" y="259.80" font-size="6.95" text-anchor="end" font-weight="normal" font-style="normal" fill="#1a1a1a" stroke="#1a1a1a" stroke-width="0.2" >50</text>
<line x1="380.5" y1="235.25" x2="383.5" y2="235.25" stroke="#1a1a1a" stroke-width="0.9"/>
<text x="380.05" y="237.75" font-size="6.95" text-anchor="end" font-weight="normal" font-style="normal" fill="#1a1a1a" stroke="#1a1a1a" stroke-width="0.2" >75</text>
<line x1="380.5" y1="213.20" x2="383.5" y2="213.20" stroke="#1a1a1a" stroke-width="0.9"/>
<text x="380.05" y="215.70" font-size="6.95" text-anchor="end" font-weight="normal" font-style="normal" fill="#1a1a1a" stroke="#1a1a1a" stroke-width="0.2" >100</text>
<line x1="381.5" y1="290.38" x2="383.5" y2="290.38" stroke="#1a1a1a" stroke-width="0.8"/>
<line x1="381.5" y1="268.32" x2="383.5" y2="268.32" stroke="#1a1a1a" stroke-width="0.8"/>
<line x1="381.5" y1="246.27" x2="383.5" y2="246.27" stroke="#1a1a1a" stroke-width="0.8"/>
<line x1="381.5" y1="224.22" x2="383.5" y2="224.22" stroke="#1a1a1a" stroke-width="0.8"/>
<line x1="381.5" y1="202.17" x2="383.5" y2="202.17" stroke="#1a1a1a" stroke-width="0.8"/>
<line x1="404.80" y1="213.73" x2="404.80" y2="207.70" stroke="#1a1a1a" stroke-width="1"/>
<line x1="402.00" y1="207.70" x2="407.60" y2="207.70" stroke="#1a1a1a" stroke-width="1"/>
<rect x="395.25" y="213.73" width="19.10" height="87.67" fill="#a9a9ac" stroke="#1a1a1a" stroke-width="1.1"/>
<line x1="404.80" y1="301.4" x2="404.80" y2="304.59999999999997" stroke="#1a1a1a" stroke-width="0.9"/>
<line x1="435.85" y1="259.33" x2="435.85" y2="257.50" stroke="#1a1a1a" stroke-width="1"/>
<line x1="433.05" y1="257.50" x2="438.65" y2="257.50" stroke="#1a1a1a" stroke-width="1"/>
<rect x="425.95" y="259.33" width="19.80" height="42.07" fill="#1b97b4" stroke="#1a1a1a" stroke-width="1.1"/>
<line x1="435.85" y1="301.4" x2="435.85" y2="304.59999999999997" stroke="#1a1a1a" stroke-width="0.9"/>
<text x="435.85" y="257.55" font-size="10" text-anchor="middle" font-weight="normal" font-style="normal" fill="#1a1a1a" stroke="#1a1a1a" stroke-width="0.1" >***</text>
<line x1="467.20" y1="254.74" x2="467.20" y2="252.30" stroke="#1a1a1a" stroke-width="1"/>
<line x1="464.40" y1="252.30" x2="470.00" y2="252.30" stroke="#1a1a1a" stroke-width="1"/>
<rect x="457.35" y="254.74" width="19.70" height="46.66" fill="#167f9c" stroke="#1a1a1a" stroke-width="1.1"/>
<line x1="467.20" y1="301.4" x2="467.20" y2="304.59999999999997" stroke="#1a1a1a" stroke-width="0.9"/>
<text x="467.20" y="252.25" font-size="10" text-anchor="middle" font-weight="normal" font-style="normal" fill="#1a1a1a" stroke="#1a1a1a" stroke-width="0.1" >***</text>
<line x1="498.60" y1="263.91" x2="498.60" y2="262.20" stroke="#1a1a1a" stroke-width="1"/>
<line x1="495.80" y1="262.20" x2="501.40" y2="262.20" stroke="#1a1a1a" stroke-width="1"/>
<rect x="488.75" y="263.91" width="19.70" height="37.49" fill="#149c61" stroke="#1a1a1a" stroke-width="1.1"/>
<line x1="498.60" y1="301.4" x2="498.60" y2="304.59999999999997" stroke="#1a1a1a" stroke-width="0.9"/>
<text x="498.60" y="262.25" font-size="10" text-anchor="middle" font-weight="normal" font-style="normal" fill="#1a1a1a" stroke="#1a1a1a" stroke-width="0.1" >***</text>
<text x="407.40" y="313.00" font-size="7.0" text-anchor="end" font-style="italic" fill="#1a1a1a" stroke="#1a1a1a" stroke-width="0.2" transform="rotate(-41.5 407.40 313.00)">CTRL</text>
<text x="438.45" y="313.00" font-size="7.0" text-anchor="end" font-style="italic" fill="#1a1a1a" stroke="#1a1a1a" stroke-width="0.2" transform="rotate(-41.5 438.45 313.00)">YAP1</text>
<text x="469.80" y="313.00" font-size="7.0" text-anchor="end" font-style="italic" fill="#1a1a1a" stroke="#1a1a1a" stroke-width="0.2" transform="rotate(-41.5 469.80 313.00)">WWTR1</text>
<text x="501.20" y="313.00" font-size="7.0" text-anchor="end" font-style="italic" fill="#1a1a1a" stroke="#1a1a1a" stroke-width="0.2" transform="rotate(-41.5 501.20 313.00)">CTNNB1</text>
<text x="381.00" y="313.90" font-size="6.8" text-anchor="end" font-weight="normal" font-style="normal" fill="#1a1a1a" stroke="#1a1a1a" stroke-width="0.2" >siRNA</text>
<text x="0" y="0" font-size="7.15" font-weight="bold" text-anchor="middle" stroke="#1a1a1a" stroke-width="0.3" transform="translate(362.4 252.3) rotate(-90)" xml:space="preserve"><tspan fill="#1a1a1a" stroke="#1a1a1a">MTT absorbance (% CTRL)</tspan></text>
<line x1="38.4" y1="400.25" x2="38.4" y2="499.8" stroke="#1a1a1a" stroke-width="1.35"/>
<line x1="37.9" y1="499.3" x2="400" y2="499.3" stroke="#1a1a1a" stroke-width="1.35"/>
<line x1="35.4" y1="499.30" x2="38.4" y2="499.30" stroke="#1a1a1a" stroke-width="0.9"/>
<text x="34.95" y="501.80" font-size="6.95" text-anchor="end" font-weight="normal" font-style="normal" fill="#1a1a1a" stroke="#1a1a1a" stroke-width="0.2" >0</text>
<line x1="35.4" y1="477.40" x2="38.4" y2="477.40" stroke="#1a1a1a" stroke-width="0.9"/>
<text x="34.95" y="479.90" font-size="6.95" text-anchor="end" font-weight="normal" font-style="normal" fill="#1a1a1a" stroke="#1a1a1a" stroke-width="0.2" >25</text>
<line x1="35.4" y1="455.50" x2="38.4" y2="455.50" stroke="#1a1a1a" stroke-width="0.9"/>
<text x="34.95" y="458.00" font-size="6.95" text-anchor="end" font-weight="normal" font-style="normal" fill="#1a1a1a" stroke="#1a1a1a" stroke-width="0.2" >50</text>
<line x1="35.4" y1="433.60" x2="38.4" y2="433.60" stroke="#1a1a1a" stroke-width="0.9"/>
<text x="34.95" y="436.10" font-size="6.95" text-anchor="end" font-weight="normal" font-style="normal" fill="#1a1a1a" stroke="#1a1a1a" stroke-width="0.2" >75</text>
<line x1="35.4" y1="411.70" x2="38.4" y2="411.70" stroke="#1a1a1a" stroke-width="0.9"/>
<text x="34.95" y="414.20" font-size="6.95" text-anchor="end" font-weight="normal" font-style="normal" fill="#1a1a1a" stroke="#1a1a1a" stroke-width="0.2" >100</text>
<line x1="36.4" y1="488.35" x2="38.4" y2="488.35" stroke="#1a1a1a" stroke-width="0.8"/>
<line x1="36.4" y1="466.45" x2="38.4" y2="466.45" stroke="#1a1a1a" stroke-width="0.8"/>
<line x1="36.4" y1="444.55" x2="38.4" y2="444.55" stroke="#1a1a1a" stroke-width="0.8"/>
<line x1="36.4" y1="422.65" x2="38.4" y2="422.65" stroke="#1a1a1a" stroke-width="0.8"/>
<line x1="36.4" y1="400.75" x2="38.4" y2="400.75" stroke="#1a1a1a" stroke-width="0.8"/>
<line x1="60.65" y1="411.88" x2="60.65" y2="409.30" stroke="#1a1a1a" stroke-width="1"/>
<line x1="57.85" y1="409.30" x2="63.45" y2="409.30" stroke="#1a1a1a" stroke-width="1"/>
<rect x="50.45" y="411.88" width="20.40" height="87.42" fill="#a9a9ac" stroke="#1a1a1a" stroke-width="1.1"/>
<line x1="60.65" y1="499.3" x2="60.65" y2="502.5" stroke="#1a1a1a" stroke-width="0.9"/>
<line x1="93.50" y1="473.20" x2="93.50" y2="467.50" stroke="#1a1a1a" stroke-width="1"/>
<line x1="90.70" y1="467.50" x2="96.30" y2="467.50" stroke="#1a1a1a" stroke-width="1"/>
<rect x="83.65" y="473.20" width="19.70" height="26.10" fill="#1b97b4" stroke="#1a1a1a" stroke-width="1.1"/>
<line x1="93.50" y1="499.3" x2="93.50" y2="502.5" stroke="#1a1a1a" stroke-width="0.9"/>
<text x="93.50" y="466.05" font-size="10" text-anchor="middle" font-weight="normal" font-style="normal" fill="#1a1a1a" stroke="#1a1a1a" stroke-width="0.1" >***</text>
<line x1="126.50" y1="478.10" x2="126.50" y2="473.80" stroke="#1a1a1a" stroke-width="1"/>
<line x1="123.70" y1="473.80" x2="129.30" y2="473.80" stroke="#1a1a1a" stroke-width="1"/>
<rect x="116.45" y="478.10" width="20.10" height="21.20" fill="#1b97b4" stroke="#1a1a1a" stroke-width="1.1"/>
<line x1="126.50" y1="499.3" x2="126.50" y2="502.5" stroke="#1a1a1a" stroke-width="0.9"/>
<text x="126.50" y="472.25" font-size="10" text-anchor="middle" font-weight="normal" font-style="normal" fill="#1a1a1a" stroke="#1a1a1a" stroke-width="0.1" >***</text>
<line x1="158.90" y1="484.32" x2="158.90" y2="480.00" stroke="#1a1a1a" stroke-width="1"/>
<line x1="156.10" y1="480.00" x2="161.70" y2="480.00" stroke="#1a1a1a" stroke-width="1"/>
<rect x="148.75" y="484.32" width="20.30" height="14.98" fill="#167f9c" stroke="#1a1a1a" stroke-width="1.1"/>
<line x1="158.90" y1="499.3" x2="158.90" y2="502.5" stroke="#1a1a1a" stroke-width="0.9"/>
<text x="158.90" y="479.05" font-size="10" text-anchor="middle" font-weight="normal" font-style="normal" fill="#1a1a1a" stroke="#1a1a1a" stroke-width="0.1" >***</text>
<line x1="191.65" y1="489.58" x2="191.65" y2="488.30" stroke="#1a1a1a" stroke-width="1"/>
<line x1="188.85" y1="488.30" x2="194.45" y2="488.30" stroke="#1a1a1a" stroke-width="1"/>
<rect x="181.25" y="489.58" width="20.80" height="9.72" fill="#167f9c" stroke="#1a1a1a" stroke-width="1.1"/>
<line x1="191.65" y1="499.3" x2="191.65" y2="502.5" stroke="#1a1a1a" stroke-width="0.9"/>
<text x="191.65" y="486.55" font-size="10" text-anchor="middle" font-weight="normal" font-style="normal" fill="#1a1a1a" stroke="#1a1a1a" stroke-width="0.1" >***</text>
<line x1="246.15" y1="412.05" x2="246.15" y2="409.50" stroke="#1a1a1a" stroke-width="1"/>
<line x1="243.35" y1="409.50" x2="248.95" y2="409.50" stroke="#1a1a1a" stroke-width="1"/>
<rect x="235.95" y="412.05" width="20.40" height="87.25" fill="#a9a9ac" stroke="#1a1a1a" stroke-width="1.1"/>
<line x1="246.15" y1="499.3" x2="246.15" y2="502.5" stroke="#1a1a1a" stroke-width="0.9"/>
<line x1="279.10" y1="441.31" x2="279.10" y2="435.50" stroke="#1a1a1a" stroke-width="1"/>
<line x1="276.30" y1="435.50" x2="281.90" y2="435.50" stroke="#1a1a1a" stroke-width="1"/>
<rect x="268.65" y="441.31" width="20.90" height="57.99" fill="#149c61" stroke="#1a1a1a" stroke-width="1.1"/>
<line x1="279.10" y1="499.3" x2="279.10" y2="502.5" stroke="#1a1a1a" stroke-width="0.9"/>
<text x="279.10" y="434.05" font-size="10" text-anchor="middle" font-weight="normal" font-style="normal" fill="#1a1a1a" stroke="#1a1a1a" stroke-width="0.1" >***</text>
<line x1="311.85" y1="488.26" x2="311.85" y2="485.00" stroke="#1a1a1a" stroke-width="1"/>
<line x1="309.05" y1="485.00" x2="314.65" y2="485.00" stroke="#1a1a1a" stroke-width="1"/>
<rect x="301.65" y="488.26" width="20.40" height="11.04" fill="#149c61" stroke="#1a1a1a" stroke-width="1.1"/>
<line x1="311.85" y1="499.3" x2="311.85" y2="502.5" stroke="#1a1a1a" stroke-width="0.9"/>
<text x="311.85" y="483.25" font-size="10" text-anchor="middle" font-weight="normal" font-style="normal" fill="#1a1a1a" stroke="#1a1a1a" stroke-width="0.1" >***</text>
<line x1="344.75" y1="497.99" x2="344.75" y2="497.00" stroke="#1a1a1a" stroke-width="1"/>
<line x1="341.95" y1="497.00" x2="347.55" y2="497.00" stroke="#1a1a1a" stroke-width="1"/>
<rect x="334.45" y="497.99" width="20.60" height="1.31" fill="#149c61" stroke="#1a1a1a" stroke-width="1.1"/>
<line x1="344.75" y1="499.3" x2="344.75" y2="502.5" stroke="#1a1a1a" stroke-width="0.9"/>
<text x="344.75" y="495.25" font-size="10" text-anchor="middle" font-weight="normal" font-style="normal" fill="#1a1a1a" stroke="#1a1a1a" stroke-width="0.1" >***</text>
<line x1="377.35" y1="498.25" x2="377.35" y2="497.30" stroke="#1a1a1a" stroke-width="1"/>
<line x1="374.55" y1="497.30" x2="380.15" y2="497.30" stroke="#1a1a1a" stroke-width="1"/>
<rect x="367.15" y="498.25" width="20.40" height="1.05" fill="#149c61" stroke="#1a1a1a" stroke-width="1.1"/>
<line x1="377.35" y1="499.3" x2="377.35" y2="502.5" stroke="#1a1a1a" stroke-width="0.9"/>
<text x="377.35" y="495.25" font-size="10" text-anchor="middle" font-weight="normal" font-style="normal" fill="#1a1a1a" stroke="#1a1a1a" stroke-width="0.1" >***</text>
<text x="60.65" y="511.30" font-size="6.95" text-anchor="middle" font-weight="normal" font-style="normal" fill="#1a1a1a" stroke="#1a1a1a" stroke-width="0.2" >CTRL</text>
<text x="93.50" y="511.30" font-size="6.95" text-anchor="middle" font-weight="normal" font-style="normal" fill="#1a1a1a" stroke="#1a1a1a" stroke-width="0.2" >0.25</text>
<text x="126.50" y="511.30" font-size="6.95" text-anchor="middle" font-weight="normal" font-style="normal" fill="#1a1a1a" stroke="#1a1a1a" stroke-width="0.2" >0.5</text>
<text x="158.90" y="511.30" font-size="6.95" text-anchor="middle" font-weight="normal" font-style="normal" fill="#1a1a1a" stroke="#1a1a1a" stroke-width="0.2" >1</text>
<text x="191.65" y="511.30" font-size="6.95" text-anchor="middle" font-weight="normal" font-style="normal" fill="#1a1a1a" stroke="#1a1a1a" stroke-width="0.2" >2</text>
<text x="246.15" y="511.30" font-size="6.95" text-anchor="middle" font-weight="normal" font-style="normal" fill="#1a1a1a" stroke="#1a1a1a" stroke-width="0.2" >CTRL</text>
<text x="279.10" y="511.30" font-size="6.95" text-anchor="middle" font-weight="normal" font-style="normal" fill="#1a1a1a" stroke="#1a1a1a" stroke-width="0.2" >0.25</text>
<text x="311.85" y="511.30" font-size="6.95" text-anchor="middle" font-weight="normal" font-style="normal" fill="#1a1a1a" stroke="#1a1a1a" stroke-width="0.2" >0.5</text>
<text x="344.75" y="511.30" font-size="6.95" text-anchor="middle" font-weight="normal" font-style="normal" fill="#1a1a1a" stroke="#1a1a1a" stroke-width="0.2" >1</text>
<text x="377.35" y="511.30" font-size="6.95" text-anchor="middle" font-weight="normal" font-style="normal" fill="#1a1a1a" stroke="#1a1a1a" stroke-width="0.2" >2</text>
<text x="400.80" y="509.00" font-size="6.95" text-anchor="start" font-weight="normal" font-style="normal" fill="#1a1a1a" stroke="#1a1a1a" stroke-width="0.2" >μmol/L</text>
<text x="0" y="0" font-size="7.05" font-weight="bold" text-anchor="middle" stroke="#1a1a1a" stroke-width="0.3" transform="translate(17.3 450.0) rotate(-90)" xml:space="preserve"><tspan fill="#1a1a1a" stroke="#1a1a1a">MTT absorbance (% CTRL)</tspan></text>
<line x1="38.3" y1="569.4124999999999" x2="38.3" y2="669.3" stroke="#1a1a1a" stroke-width="1.35"/>
<line x1="37.8" y1="668.8" x2="400" y2="668.8" stroke="#1a1a1a" stroke-width="1.35"/>
<line x1="35.3" y1="668.80" x2="38.3" y2="668.80" stroke="#1a1a1a" stroke-width="0.9"/>
<text x="34.85" y="671.30" font-size="6.95" text-anchor="end" font-weight="normal" font-style="normal" fill="#1a1a1a" stroke="#1a1a1a" stroke-width="0.2" >0</text>
<line x1="35.3" y1="646.82" x2="38.3" y2="646.82" stroke="#1a1a1a" stroke-width="0.9"/>
<text x="34.85" y="649.32" font-size="6.95" text-anchor="end" font-weight="normal" font-style="normal" fill="#1a1a1a" stroke="#1a1a1a" stroke-width="0.2" >25</text>
<line x1="35.3" y1="624.85" x2="38.3" y2="624.85" stroke="#1a1a1a" stroke-width="0.9"/>
<text x="34.85" y="627.35" font-size="6.95" text-anchor="end" font-weight="normal" font-style="normal" fill="#1a1a1a" stroke="#1a1a1a" stroke-width="0.2" >50</text>
<line x1="35.3" y1="602.88" x2="38.3" y2="602.88" stroke="#1a1a1a" stroke-width="0.9"/>
<text x="34.85" y="605.38" font-size="6.95" text-anchor="end" font-weight="normal" font-style="normal" fill="#1a1a1a" stroke="#1a1a1a" stroke-width="0.2" >75</text>
<line x1="35.3" y1="580.90" x2="38.3" y2="580.90" stroke="#1a1a1a" stroke-width="0.9"/>
<text x="34.85" y="583.40" font-size="6.95" text-anchor="end" font-weight="normal" font-style="normal" fill="#1a1a1a" stroke="#1a1a1a" stroke-width="0.2" >100</text>
<line x1="36.3" y1="657.81" x2="38.3" y2="657.81" stroke="#1a1a1a" stroke-width="0.8"/>
<line x1="36.3" y1="635.84" x2="38.3" y2="635.84" stroke="#1a1a1a" stroke-width="0.8"/>
<line x1="36.3" y1="613.86" x2="38.3" y2="613.86" stroke="#1a1a1a" stroke-width="0.8"/>
<line x1="36.3" y1="591.89" x2="38.3" y2="591.89" stroke="#1a1a1a" stroke-width="0.8"/>
<line x1="36.3" y1="569.91" x2="38.3" y2="569.91" stroke="#1a1a1a" stroke-width="0.8"/>
<line x1="60.65" y1="581.34" x2="60.65" y2="580.00" stroke="#1a1a1a" stroke-width="1"/>
<line x1="57.85" y1="580.00" x2="63.45" y2="580.00" stroke="#1a1a1a" stroke-width="1"/>
<rect x="50.45" y="581.34" width="20.40" height="87.46" fill="#a9a9ac" stroke="#1a1a1a" stroke-width="1.1"/>
<line x1="60.65" y1="668.8" x2="60.65" y2="672.0" stroke="#1a1a1a" stroke-width="0.9"/>
<line x1="93.40" y1="626.34" x2="93.40" y2="609.50" stroke="#1a1a1a" stroke-width="1"/>
<line x1="90.60" y1="609.50" x2="96.20" y2="609.50" stroke="#1a1a1a" stroke-width="1"/>
<rect x="83.45" y="626.34" width="19.90" height="42.46" fill="#1b97b4" stroke="#1a1a1a" stroke-width="1.1"/>
<line x1="93.40" y1="668.8" x2="93.40" y2="672.0" stroke="#1a1a1a" stroke-width="0.9"/>
<text x="93.40" y="608.55" font-size="10" text-anchor="middle" font-weight="normal" font-style="normal" fill="#1a1a1a" stroke="#1a1a1a" stroke-width="0.1" >***</text>
<line x1="126.20" y1="650.08" x2="126.20" y2="643.30" stroke="#1a1a1a" stroke-width="1"/>
<line x1="123.40" y1="643.30" x2="129.00" y2="643.30" stroke="#1a1a1a" stroke-width="1"/>
<rect x="116.05" y="650.08" width="20.30" height="18.72" fill="#1b97b4" stroke="#1a1a1a" stroke-width="1.1"/>
<line x1="126.20" y1="668.8" x2="126.20" y2="672.0" stroke="#1a1a1a" stroke-width="0.9"/>
<text x="126.20" y="641.75" font-size="10" text-anchor="middle" font-weight="normal" font-style="normal" fill="#1a1a1a" stroke="#1a1a1a" stroke-width="0.1" >***</text>
<line x1="158.90" y1="660.01" x2="158.90" y2="658.30" stroke="#1a1a1a" stroke-width="1"/>
<line x1="156.10" y1="658.30" x2="161.70" y2="658.30" stroke="#1a1a1a" stroke-width="1"/>
<rect x="148.75" y="660.01" width="20.30" height="8.79" fill="#167f9c" stroke="#1a1a1a" stroke-width="1.1"/>
<line x1="158.90" y1="668.8" x2="158.90" y2="672.0" stroke="#1a1a1a" stroke-width="0.9"/>
<text x="158.90" y="656.55" font-size="10" text-anchor="middle" font-weight="normal" font-style="normal" fill="#1a1a1a" stroke="#1a1a1a" stroke-width="0.1" >***</text>
<line x1="191.65" y1="666.34" x2="191.65" y2="664.50" stroke="#1a1a1a" stroke-width="1"/>
<line x1="188.85" y1="664.50" x2="194.45" y2="664.50" stroke="#1a1a1a" stroke-width="1"/>
<rect x="181.25" y="666.34" width="20.80" height="2.46" fill="#167f9c" stroke="#1a1a1a" stroke-width="1.1"/>
<line x1="191.65" y1="668.8" x2="191.65" y2="672.0" stroke="#1a1a1a" stroke-width="0.9"/>
<text x="191.65" y="663.55" font-size="10" text-anchor="middle" font-weight="normal" font-style="normal" fill="#1a1a1a" stroke="#1a1a1a" stroke-width="0.1" >***</text>
<line x1="246.15" y1="581.34" x2="246.15" y2="580.30" stroke="#1a1a1a" stroke-width="1"/>
<line x1="243.35" y1="580.30" x2="248.95" y2="580.30" stroke="#1a1a1a" stroke-width="1"/>
<rect x="235.95" y="581.34" width="20.40" height="87.46" fill="#a9a9ac" stroke="#1a1a1a" stroke-width="1.1"/>
<line x1="246.15" y1="668.8" x2="246.15" y2="672.0" stroke="#1a1a1a" stroke-width="0.9"/>
<line x1="278.75" y1="583.89" x2="278.75" y2="582.00" stroke="#1a1a1a" stroke-width="1"/>
<line x1="275.95" y1="582.00" x2="281.55" y2="582.00" stroke="#1a1a1a" stroke-width="1"/>
<rect x="268.45" y="583.89" width="20.60" height="84.91" fill="#149c61" stroke="#1a1a1a" stroke-width="1.1"/>
<line x1="278.75" y1="668.8" x2="278.75" y2="672.0" stroke="#1a1a1a" stroke-width="0.9"/>
<text x="278.75" y="581.05" font-size="10" text-anchor="middle" font-weight="normal" font-style="normal" fill="#1a1a1a" stroke="#1a1a1a" stroke-width="0.1" >**</text>
<line x1="311.85" y1="620.37" x2="311.85" y2="599.00" stroke="#1a1a1a" stroke-width="1"/>
<line x1="309.05" y1="599.00" x2="314.65" y2="599.00" stroke="#1a1a1a" stroke-width="1"/>
<rect x="301.65" y="620.37" width="20.40" height="48.43" fill="#149c61" stroke="#1a1a1a" stroke-width="1.1"/>
<line x1="311.85" y1="668.8" x2="311.85" y2="672.0" stroke="#1a1a1a" stroke-width="0.9"/>
<text x="311.85" y="598.55" font-size="10" text-anchor="middle" font-weight="normal" font-style="normal" fill="#1a1a1a" stroke="#1a1a1a" stroke-width="0.1" >**</text>
<line x1="344.65" y1="663.79" x2="344.65" y2="661.50" stroke="#1a1a1a" stroke-width="1"/>
<line x1="341.85" y1="661.50" x2="347.45" y2="661.50" stroke="#1a1a1a" stroke-width="1"/>
<rect x="334.25" y="663.79" width="20.80" height="5.01" fill="#149c61" stroke="#1a1a1a" stroke-width="1.1"/>
<line x1="344.65" y1="668.8" x2="344.65" y2="672.0" stroke="#1a1a1a" stroke-width="0.9"/>
<text x="344.65" y="660.25" font-size="10" text-anchor="middle" font-weight="normal" font-style="normal" fill="#1a1a1a" stroke="#1a1a1a" stroke-width="0.1" >***</text>
<line x1="377.35" y1="668.10" x2="377.35" y2="667.20" stroke="#1a1a1a" stroke-width="1"/>
<line x1="374.55" y1="667.20" x2="380.15" y2="667.20" stroke="#1a1a1a" stroke-width="1"/>
<rect x="367.15" y="668.10" width="20.40" height="0.70" fill="#149c61" stroke="#1a1a1a" stroke-width="1.1"/>
<line x1="377.35" y1="668.8" x2="377.35" y2="672.0" stroke="#1a1a1a" stroke-width="0.9"/>
<text x="377.35" y="666.05" font-size="10" text-anchor="middle" font-weight="normal" font-style="normal" fill="#1a1a1a" stroke="#1a1a1a" stroke-width="0.1" >***</text>
<text x="60.65" y="680.30" font-size="6.95" text-anchor="middle" font-weight="normal" font-style="normal" fill="#1a1a1a" stroke="#1a1a1a" stroke-width="0.2" >CTRL</text>
<text x="93.40" y="680.30" font-size="6.95" text-anchor="middle" font-weight="normal" font-style="normal" fill="#1a1a1a" stroke="#1a1a1a" stroke-width="0.2" >0.25</text>
<text x="126.20" y="680.30" font-size="6.95" text-anchor="middle" font-weight="normal" font-style="normal" fill="#1a1a1a" stroke="#1a1a1a" stroke-width="0.2" >0.5</text>
<text x="158.90" y="680.30" font-size="6.95" text-anchor="middle" font-weight="normal" font-style="normal" fill="#1a1a1a" stroke="#1a1a1a" stroke-width="0.2" >1</text>
<text x="191.65" y="680.30" font-size="6.95" text-anchor="middle" font-weight="normal" font-style="normal" fill="#1a1a1a" stroke="#1a1a1a" stroke-width="0.2" >2</text>
<text x="246.15" y="680.30" font-size="6.95" text-anchor="middle" font-weight="normal" font-style="normal" fill="#1a1a1a" stroke="#1a1a1a" stroke-width="0.2" >CTRL</text>
<text x="278.75" y="680.30" font-size="6.95" text-anchor="middle" font-weight="normal" font-style="normal" fill="#1a1a1a" stroke="#1a1a1a" stroke-width="0.2" >0.25</text>
<text x="311.85" y="680.30" font-size="6.95" text-anchor="middle" font-weight="normal" font-style="normal" fill="#1a1a1a" stroke="#1a1a1a" stroke-width="0.2" >0.5</text>
<text x="344.65" y="680.30" font-size="6.95" text-anchor="middle" font-weight="normal" font-style="normal" fill="#1a1a1a" stroke="#1a1a1a" stroke-width="0.2" >1</text>
<text x="377.35" y="680.30" font-size="6.95" text-anchor="middle" font-weight="normal" font-style="normal" fill="#1a1a1a" stroke="#1a1a1a" stroke-width="0.2" >2</text>
<text x="400.80" y="678.60" font-size="6.95" text-anchor="start" font-weight="normal" font-style="normal" fill="#1a1a1a" stroke="#1a1a1a" stroke-width="0.2" >μmol/L</text>
<text x="0" y="0" font-size="7.05" font-weight="bold" text-anchor="middle" stroke="#1a1a1a" stroke-width="0.3" transform="translate(17.3 620.0) rotate(-90)" xml:space="preserve"><tspan fill="#1a1a1a" stroke="#1a1a1a">MTT absorbance (% CTRL)</tspan></text>
</svg>
</body>
</html>
